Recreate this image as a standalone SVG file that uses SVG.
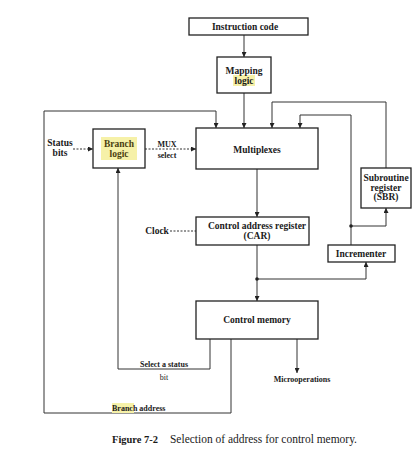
<svg xmlns="http://www.w3.org/2000/svg" width="420" height="451" viewBox="0 0 420 451">
<defs>
<marker id="ah" viewBox="0 0 8 8" refX="8" refY="4" markerWidth="5" markerHeight="5" orient="auto" markerUnits="userSpaceOnUse">
<path d="M0,0 L8,4 L0,8 z" fill="#222"/>
</marker>
<style>
.box{fill:#fff;stroke:#222;stroke-width:1.3}
.ln{fill:none;stroke:#333;stroke-width:1}
.dash{fill:none;stroke:#333;stroke-width:1;stroke-dasharray:2,1.5}
text{font-family:"Liberation Serif","Times New Roman",serif}
.t{font-weight:bold;font-size:9.5px;fill:#1a1a1a;text-anchor:middle}
.s{font-weight:bold;font-size:8px;fill:#1a1a1a;text-anchor:middle}
.br{fill:#4a3e10}
.hl{fill:#f6f1a8}
.dot{fill:#222}
</style>
</defs>
<rect width="420" height="451" fill="#fff"/>
<g id="connectors">
<path class="ln" d="M244,35 V57" marker-end="url(#ah)"/>
<path class="ln" d="M244,93 V128" marker-end="url(#ah)"/>
<path class="ln" d="M231,339 V413 H44 V111 H216 V128" marker-end="url(#ah)"/>
<path class="dash" d="M73,149 H93" marker-end="url(#ah)"/>
<path class="dash" d="M145,149 H196" marker-end="url(#ah)"/>
<path class="ln" d="M257,169 V217" marker-end="url(#ah)"/>
<path class="dash" d="M170,231 H196"/>
<path class="ln" d="M196,227 L203,231 L196,235"/>
<path class="ln" d="M257,245 V301" marker-end="url(#ah)"/>
<path class="ln" d="M257,279 H366 V262" marker-end="url(#ah)"/>
<path class="ln" d="M351,245 V115 H300 V128" marker-end="url(#ah)"/>
<path class="ln" d="M351,226 H386 V208" marker-end="url(#ah)"/>
<path class="ln" d="M386,168 V102 H272 V128" marker-end="url(#ah)"/>
<path class="ln" d="M210,339 V369 H118 V168" marker-end="url(#ah)"/>
<path class="ln" d="M297,339 V373" marker-end="url(#ah)"/>
<circle class="dot" cx="257" cy="279" r="1.8"/>
<circle class="dot" cx="351" cy="226" r="1.8"/>
</g>
<g id="instruction-code">
<rect class="box" x="189" y="18" width="119" height="17"/>
<text class="t" x="245" y="29.5">Instruction code</text>
</g>
<g id="mapping-logic">
<rect class="box" x="217" y="57" width="54" height="36"/>
<rect class="hl" x="233" y="75" width="22" height="11"/>
<text class="t" x="244" y="74">Mapping</text>
<text class="t" x="244" y="83.5">logic</text>
</g>
<g id="branch-logic">
<rect class="box" x="93" y="129" width="52" height="39"/>
<rect class="hl" x="101" y="137" width="36" height="23"/>
<text class="t br" x="119" y="147">Branch</text>
<text class="t br" x="119" y="157">logic</text>
</g>
<g id="multiplexes">
<rect class="box" x="196" y="128" width="122" height="41"/>
<text class="t" x="257" y="153">Multiplexes</text>
</g>
<g id="car">
<rect class="box" x="196" y="217" width="113" height="28"/>
<text class="t" x="257" y="229">Control address register</text>
<text class="t" x="257" y="238.5">(CAR)</text>
</g>
<g id="incrementer">
<rect class="box" x="328" y="245" width="67" height="17"/>
<text class="t" x="361" y="257">Incrementer</text>
</g>
<g id="sbr">
<rect class="box" x="361" y="168" width="50" height="40"/>
<text class="t" x="386" y="181">Subroutine</text>
<text class="t" x="386" y="190.5">register</text>
<text class="t" x="386" y="200">(SBR)</text>
</g>
<g id="control-memory">
<rect class="box" x="196" y="301" width="122" height="38"/>
<text class="t" x="257" y="323">Control memory</text>
</g>
<g id="labels">
<text class="t" x="60" y="146">Status</text>
<text class="t" x="60" y="156">bits</text>
<text class="s" x="167" y="147">MUX</text>
<text class="s" x="167" y="158">select</text>
<text class="t" x="157" y="234">Clock</text>
<text class="s" x="164" y="367">Select a status</text>
<text class="s" x="164" y="380" font-weight="normal" style="font-weight:normal">bit</text>
<rect class="hl" x="112" y="403" width="22" height="10"/>
<text class="s" x="112" y="411" style="text-anchor:start">Branch address</text>
<text class="s" x="302" y="382">Microoperations</text>
</g>
<g id="caption">
<text x="112" y="443" font-size="10.5" font-weight="bold" fill="#1a1a1a" textLength="46" lengthAdjust="spacingAndGlyphs">Figure 7-2</text>
<text x="170" y="443" font-size="11.5" fill="#1a1a1a" textLength="187" lengthAdjust="spacingAndGlyphs">Selection of address for control memory.</text>
</g>
</svg>
